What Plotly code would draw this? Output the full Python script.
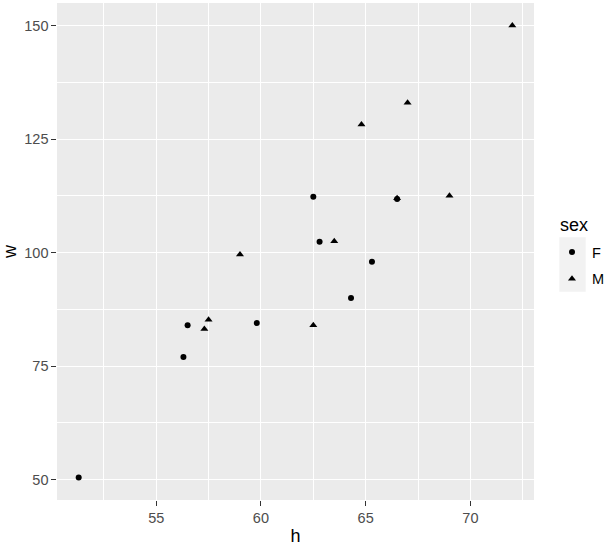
import plotly.graph_objects as go

# Data
f_h = [51.3, 56.3, 56.5, 59.8, 62.5, 62.8, 64.3, 65.3, 66.5]
f_w = [50.5, 77.0, 84.0, 84.5, 112.3, 102.4, 90.0, 98.0, 111.8]
m_h = [57.3, 57.5, 59.0, 62.5, 63.5, 64.8, 66.5, 67.0, 69.0, 72.0]
m_w = [83.2, 85.2, 99.6, 84.0, 102.5, 128.2, 112.0, 133.0, 112.5, 150.0]
x_ticks = [55, 60, 65, 70]
y_ticks = [50, 75, 100, 125, 150]

all_h = f_h + m_h
all_w = f_w + m_w
dx = max(all_h) - min(all_h)
dy = max(all_w) - min(all_w)
x_range = [min(all_h) - 0.05 * dx, max(all_h) + 0.05 * dx]
y_range = [min(all_w) - 0.05 * dy, max(all_w) + 0.05 * dy]

FONT = "Liberation Sans, Arial, sans-serif"

fig = go.Figure()
fig.add_trace(go.Scatter(x=f_h, y=f_w, mode="markers", name="F", legendgroup="F",
                         marker=dict(symbol="circle", size=6, color="black")))
fig.add_trace(go.Scatter(x=m_h, y=m_w, mode="markers", name="M", legendgroup="M",
                         marker=dict(symbol="triangle-up", size=7, color="black")))

W, H = 613, 552
L, R, T, B = 57, 79, 3, 52
pw, ph = W - L - R, H - T - B


def px2paper_x(px):
    return (px - L) / pw


def px2paper_y(py):
    return (H - B - py) / ph


axis_common = dict(
    showgrid=True, gridcolor="white", gridwidth=1.4,
    zeroline=False, showline=False,
    ticks="outside", ticklen=4.6, tickwidth=1.3, tickcolor="#333333",
    tickfont=dict(family=FONT, size=14.5, color="#4d4d4d"),
    title_font=dict(family=FONT, size=18, color="black"),
)

fig.update_xaxes(
    range=x_range, tickmode="array", tickvals=x_ticks,
    ticktext=[str(v) for v in x_ticks],
    minor=dict(tickmode="linear", tick0=52.5, dtick=5, showgrid=True,
               gridcolor="white", gridwidth=0.7, ticklen=0),
    title_text="h", title_standoff=4, **axis_common)
fig.update_yaxes(
    range=y_range, tickmode="array", tickvals=y_ticks,
    ticktext=[str(v) for v in y_ticks],
    minor=dict(tickmode="linear", tick0=62.5, dtick=25, showgrid=True,
               gridcolor="white", gridwidth=0.7, ticklen=0),
    title_text="w", title_standoff=2, **axis_common)

# legend key backgrounds
fig.add_shape(type="rect", xref="paper", yref="paper",
              x0=px2paper_x(559.3), x1=px2paper_x(585.7),
              y0=px2paper_y(291.7), y1=px2paper_y(237.3),
              fillcolor="#F2F2F2", line=dict(width=0), layer="below")
fig.add_annotation(text="sex", xref="paper", yref="paper",
                   x=px2paper_x(558), y=px2paper_y(225), xanchor="left", yanchor="middle",
                   showarrow=False, font=dict(family=FONT, size=18, color="black"))

fig.update_layout(
    width=W, height=H,
    margin=dict(l=L, r=R, t=T, b=B),
    plot_bgcolor="#EBEBEB", paper_bgcolor="white",
    font=dict(family=FONT),
    legend=dict(x=px2paper_x(552), y=px2paper_y(236), xanchor="left", yanchor="top",
                bgcolor="rgba(0,0,0,0)", borderwidth=0, tracegroupgap=5,
                font=dict(family=FONT, size=14.5, color="black")),
    showlegend=True,
)

fig.write_html("out.html")
